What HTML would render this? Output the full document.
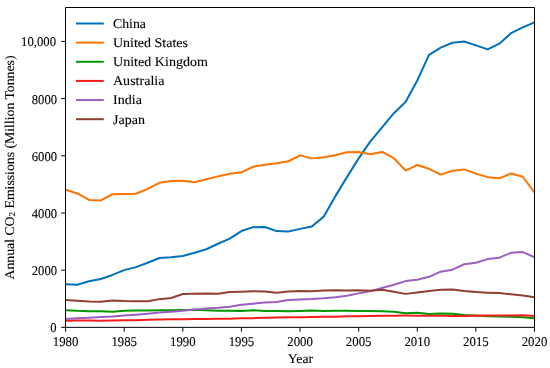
<!DOCTYPE html><html><head><meta charset="utf-8"><style>html,body{margin:0;padding:0;background:#fff;width:550px;height:368px;overflow:hidden}svg{display:block}svg{text-rendering:geometricPrecision}text{font-family:"Liberation Serif",serif;fill:#000;stroke:#000;stroke-width:0.10px}</style></head><body>
<svg width="550" height="368" viewBox="0 0 550 368">
<rect width="550" height="368" fill="#fff"/>
<defs><clipPath id="ax"><rect x="65.60" y="7.60" width="468.90" height="319.50"/></clipPath></defs>
<g clip-path="url(#ax)" fill="none" stroke-width="2.00" stroke-linejoin="round" stroke-linecap="butt">
<polyline stroke="#0072bd" points="65.60,284.33 77.32,284.73 89.04,281.19 100.77,278.93 112.49,274.93 124.21,270.10 135.94,267.13 147.66,262.76 159.38,258.02 171.10,257.25 182.82,255.96 194.55,252.76 206.27,249.25 217.99,243.76 229.71,238.59 241.44,231.05 253.16,227.16 264.88,226.96 276.60,231.10 288.33,231.59 300.05,228.90 311.77,226.42 323.50,216.88 335.22,196.39 346.94,177.11 358.66,158.39 370.38,141.39 382.11,127.48 393.83,113.17 405.55,101.91 417.27,80.51 429.00,54.94 440.72,47.66 452.44,42.77 464.16,41.57 475.89,45.37 487.61,49.40 499.33,43.66 511.06,33.11 522.78,27.43 534.50,22.32"/>
<polyline stroke="#ff7300" points="65.60,189.68 77.32,193.48 89.04,199.88 100.77,200.42 112.49,194.25 124.21,193.91 135.94,193.74 147.66,188.82 159.38,182.82 171.10,180.96 182.82,180.79 194.55,182.22 206.27,179.25 217.99,176.39 229.71,173.79 241.44,172.31 253.16,166.74 264.88,164.77 276.60,163.28 288.33,161.25 300.05,155.37 311.77,158.37 323.50,157.19 335.22,155.25 346.94,152.34 358.66,151.91 370.38,154.19 382.11,151.94 393.83,158.11 405.55,170.54 417.27,164.94 429.00,168.82 440.72,174.59 452.44,170.71 464.16,169.42 475.89,173.65 487.61,177.14 499.33,178.31 511.06,173.51 522.78,176.76 534.50,192.39"/>
<polyline stroke="#009800" points="65.60,310.22 77.32,310.87 89.04,311.16 100.77,311.36 112.49,311.79 124.21,310.87 135.94,310.53 147.66,310.50 159.38,310.36 171.10,310.27 182.82,309.96 194.55,309.73 206.27,310.24 217.99,310.67 229.71,310.82 241.44,311.02 253.16,310.24 264.88,310.96 276.60,310.90 288.33,311.16 300.05,310.90 311.77,310.59 323.50,311.02 335.22,310.79 346.94,310.79 358.66,310.93 370.38,311.04 382.11,311.24 393.83,311.73 405.55,313.27 417.27,312.81 429.00,313.96 440.72,313.47 452.44,313.76 464.16,314.99 475.89,315.53 487.61,316.21 499.33,316.59 511.06,316.70 522.78,317.13 534.50,318.16"/>
<polyline stroke="#f71c1c" points="65.60,320.81 77.32,320.59 89.04,320.47 100.77,320.70 112.49,320.47 124.21,320.24 135.94,320.16 147.66,319.87 159.38,319.56 171.10,319.27 182.82,319.16 194.55,319.10 206.27,318.96 217.99,318.84 229.71,318.70 241.44,318.36 253.16,318.13 264.88,317.87 276.60,317.44 288.33,317.21 300.05,317.13 311.77,316.93 323.50,316.81 335.22,316.73 346.94,316.36 358.66,316.21 370.38,315.99 382.11,315.79 393.83,315.64 405.55,315.53 417.27,315.67 429.00,315.73 440.72,315.70 452.44,315.99 464.16,316.07 475.89,315.81 487.61,315.53 499.33,315.41 511.06,315.39 522.78,315.36 534.50,315.93"/>
<polyline stroke="#9c5ec2" points="65.60,318.96 77.32,318.24 89.04,317.67 100.77,317.10 112.49,316.53 124.21,315.53 135.94,314.67 147.66,313.67 159.38,312.53 171.10,311.67 182.82,310.67 194.55,309.59 206.27,308.39 217.99,307.67 229.71,306.64 241.44,304.76 253.16,303.67 264.88,302.47 276.60,301.90 288.33,300.02 300.05,299.39 311.77,298.96 323.50,298.24 335.22,297.24 346.94,295.67 358.66,293.39 370.38,291.10 382.11,287.96 393.83,284.82 405.55,281.10 417.27,279.67 429.00,276.82 440.72,271.67 452.44,269.67 464.16,264.25 475.89,262.82 487.61,259.10 499.33,257.67 511.06,252.82 522.78,252.08 534.50,257.25"/>
<polyline stroke="#903f30" points="65.60,300.04 77.32,300.79 89.04,301.62 100.77,301.84 112.49,300.39 124.21,301.07 135.94,301.22 147.66,301.33 159.38,299.13 171.10,297.96 182.82,294.02 194.55,293.67 206.27,293.39 217.99,293.67 229.71,292.10 241.44,291.67 253.16,291.33 264.88,291.47 276.60,292.67 288.33,291.59 300.05,290.99 311.77,291.33 323.50,290.50 335.22,290.30 346.94,290.39 358.66,290.13 370.38,290.84 382.11,289.79 393.83,291.73 405.55,293.87 417.27,292.42 429.00,290.96 440.72,289.84 452.44,289.47 464.16,290.93 475.89,292.07 487.61,292.64 499.33,293.02 511.06,294.33 522.78,295.47 534.50,297.33"/>
</g>
<path d="M65.50,7.50V327.35H534.50V7.50Z" fill="none" stroke="#000" stroke-width="1.00"/>
<path d="M65.60,327.35v4.30M124.21,327.35v4.30M182.82,327.35v4.30M241.44,327.35v4.30M300.05,327.35v4.30M358.66,327.35v4.30M417.27,327.35v4.30M475.89,327.35v4.30M534.50,327.35v4.30M65.50,327.35h-4.30M65.50,270.16h-4.30M65.50,212.97h-4.30M65.50,155.78h-4.30M65.50,98.59h-4.30M65.50,41.40h-4.30" stroke="#000" stroke-width="1" fill="none"/>
<text x="65.60" y="345.50" font-size="13.4" text-anchor="middle" textLength="25.60" lengthAdjust="spacingAndGlyphs">1980</text>
<text x="124.21" y="345.50" font-size="13.4" text-anchor="middle" textLength="25.60" lengthAdjust="spacingAndGlyphs">1985</text>
<text x="182.82" y="345.50" font-size="13.4" text-anchor="middle" textLength="25.60" lengthAdjust="spacingAndGlyphs">1990</text>
<text x="241.44" y="345.50" font-size="13.4" text-anchor="middle" textLength="25.60" lengthAdjust="spacingAndGlyphs">1995</text>
<text x="300.05" y="345.50" font-size="13.4" text-anchor="middle" textLength="25.60" lengthAdjust="spacingAndGlyphs">2000</text>
<text x="358.66" y="345.50" font-size="13.4" text-anchor="middle" textLength="25.60" lengthAdjust="spacingAndGlyphs">2005</text>
<text x="417.27" y="345.50" font-size="13.4" text-anchor="middle" textLength="25.60" lengthAdjust="spacingAndGlyphs">2010</text>
<text x="475.89" y="345.50" font-size="13.4" text-anchor="middle" textLength="25.60" lengthAdjust="spacingAndGlyphs">2015</text>
<text x="534.50" y="345.50" font-size="13.4" text-anchor="middle" textLength="25.60" lengthAdjust="spacingAndGlyphs">2020</text>
<text x="56.60" y="332.10" font-size="13.4" text-anchor="end" textLength="6.30" lengthAdjust="spacingAndGlyphs">0</text>
<text x="57.00" y="274.96" font-size="13.4" text-anchor="end" textLength="25.20" lengthAdjust="spacingAndGlyphs">2000</text>
<text x="57.00" y="217.82" font-size="13.4" text-anchor="end" textLength="25.20" lengthAdjust="spacingAndGlyphs">4000</text>
<text x="57.00" y="160.68" font-size="13.4" text-anchor="end" textLength="25.20" lengthAdjust="spacingAndGlyphs">6000</text>
<text x="57.00" y="103.54" font-size="13.4" text-anchor="end" textLength="25.20" lengthAdjust="spacingAndGlyphs">8000</text>
<text x="56.00" y="46.40" font-size="13.4" text-anchor="end" textLength="34.90" lengthAdjust="spacingAndGlyphs">10,000</text>
<text x="300.40" y="362.80" font-size="13.4" text-anchor="middle" textLength="25.30" lengthAdjust="spacingAndGlyphs">Year</text>
<text transform="translate(13.60,167.50) rotate(-90)" font-size="13.4" text-anchor="middle" textLength="224.00" lengthAdjust="spacingAndGlyphs">Annual CO<tspan font-size="9.0" dy="1.8">2</tspan><tspan dy="-1.8"> Emissions (Million Tonnes)</tspan></text>
<path d="M76.00,23.50H103.80" stroke="#0072bd" stroke-width="2.00"/>
<text x="113.00" y="27.90" font-size="13.4" textLength="33.00" lengthAdjust="spacingAndGlyphs">China</text>
<path d="M76.00,42.64H103.80" stroke="#ff7300" stroke-width="2.00"/>
<text x="113.00" y="47.04" font-size="13.4" textLength="75.00" lengthAdjust="spacingAndGlyphs">United States</text>
<path d="M76.00,61.78H103.80" stroke="#009800" stroke-width="2.00"/>
<text x="113.00" y="66.18" font-size="13.4" textLength="95.00" lengthAdjust="spacingAndGlyphs">United Kingdom</text>
<path d="M76.00,80.92H103.80" stroke="#f71c1c" stroke-width="2.00"/>
<text x="113.00" y="85.32" font-size="13.4" textLength="51.40" lengthAdjust="spacingAndGlyphs">Australia</text>
<path d="M76.00,100.06H103.80" stroke="#9c5ec2" stroke-width="2.00"/>
<text x="113.00" y="104.46" font-size="13.4" textLength="28.90" lengthAdjust="spacingAndGlyphs">India</text>
<path d="M76.00,119.20H103.80" stroke="#903f30" stroke-width="2.00"/>
<text x="113.00" y="123.60" font-size="13.4" textLength="32.00" lengthAdjust="spacingAndGlyphs">Japan</text>
</svg></body></html>
